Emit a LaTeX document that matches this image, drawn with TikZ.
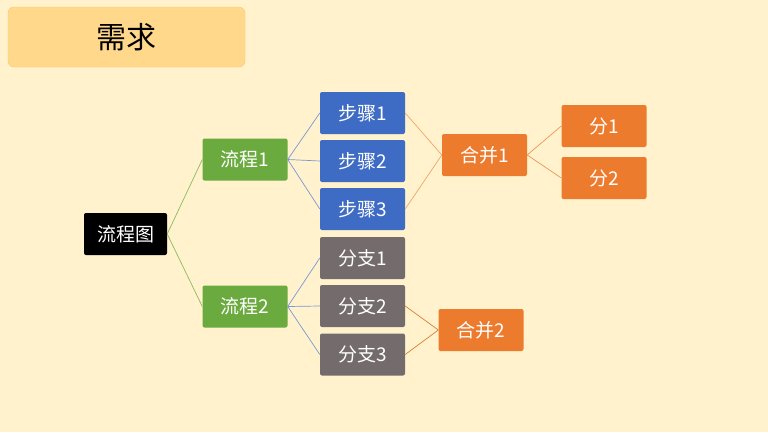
\documentclass[tikz,border=0pt]{standalone}
\usepackage{fontspec}
\setmainfont{Noto Sans CJK SC}
\definecolor{bg}{HTML}{FFF2CC}
\definecolor{gr}{HTML}{6AAA3E}
\definecolor{bl}{HTML}{3E6CC4}
\definecolor{gy}{HTML}{746C6C}
\definecolor{og}{HTML}{EC7B2E}
\definecolor{tb}{HTML}{FFD88C}
\tikzset{box/.style={rounded corners=2pt,minimum width=85pt,minimum height=42pt,text=white,font=\fontsize{19}{19}\selectfont,inner sep=0pt},
 lk/.style={line width=0.7pt}}
\begin{document}
\begin{tikzpicture}[x=1pt,y=-1pt]
\fill[bg] (0,0) rectangle (768,432);
\useasboundingbox (0,0) rectangle (768,432);
\node[rounded corners=6pt,fill=tb,draw=tb!80!orange,minimum width=237pt,minimum height=60pt,font=\fontsize{30}{30}\selectfont] (t) at (126.5,37) {需求};
\node[box,fill=black,minimum width=83pt] (r) at (125.5,234) {流程图};
\node[box,fill=gr] (p1) at (245,159.5) {流程1};
\node[box,fill=gr] (p2) at (245,306.5) {流程2};
\node[box,fill=bl] (s1) at (362.5,113) {步骤1};
\node[box,fill=bl] (s2) at (362.5,161) {步骤2};
\node[box,fill=bl] (s3) at (362.5,209) {步骤3};
\node[box,fill=gy] (b1) at (362.5,258) {分支1};
\node[box,fill=gy] (b2) at (362.5,306) {分支2};
\node[box,fill=gy] (b3) at (362.5,354.5) {分支3};
\node[box,fill=og] (m1) at (484.5,155) {合并1};
\node[box,fill=og] (m2) at (481,330) {合并2};
\node[box,fill=og] (f1) at (604,126) {分1};
\node[box,fill=og] (f2) at (604,178) {分2};
\foreach \c in {p1,p2} \draw[lk,gr!80] (r.east) -- (\c.west);
\foreach \c in {s1,s2,s3} \draw[lk,bl!70] (p1.east) -- (\c.west);
\foreach \c in {b1,b2,b3} \draw[lk,bl!70] (p2.east) -- (\c.west);
\foreach \c in {s1,s3} \draw[lk,og!70] (\c.east) -- (m1.west);
\foreach \c in {b2,b3} \draw[lk,og!70!brown] (\c.east) -- (m2.west);
\foreach \c in {f1,f2} \draw[lk,og!80] (m1.east) -- (\c.west);
\end{tikzpicture}
\end{document}
